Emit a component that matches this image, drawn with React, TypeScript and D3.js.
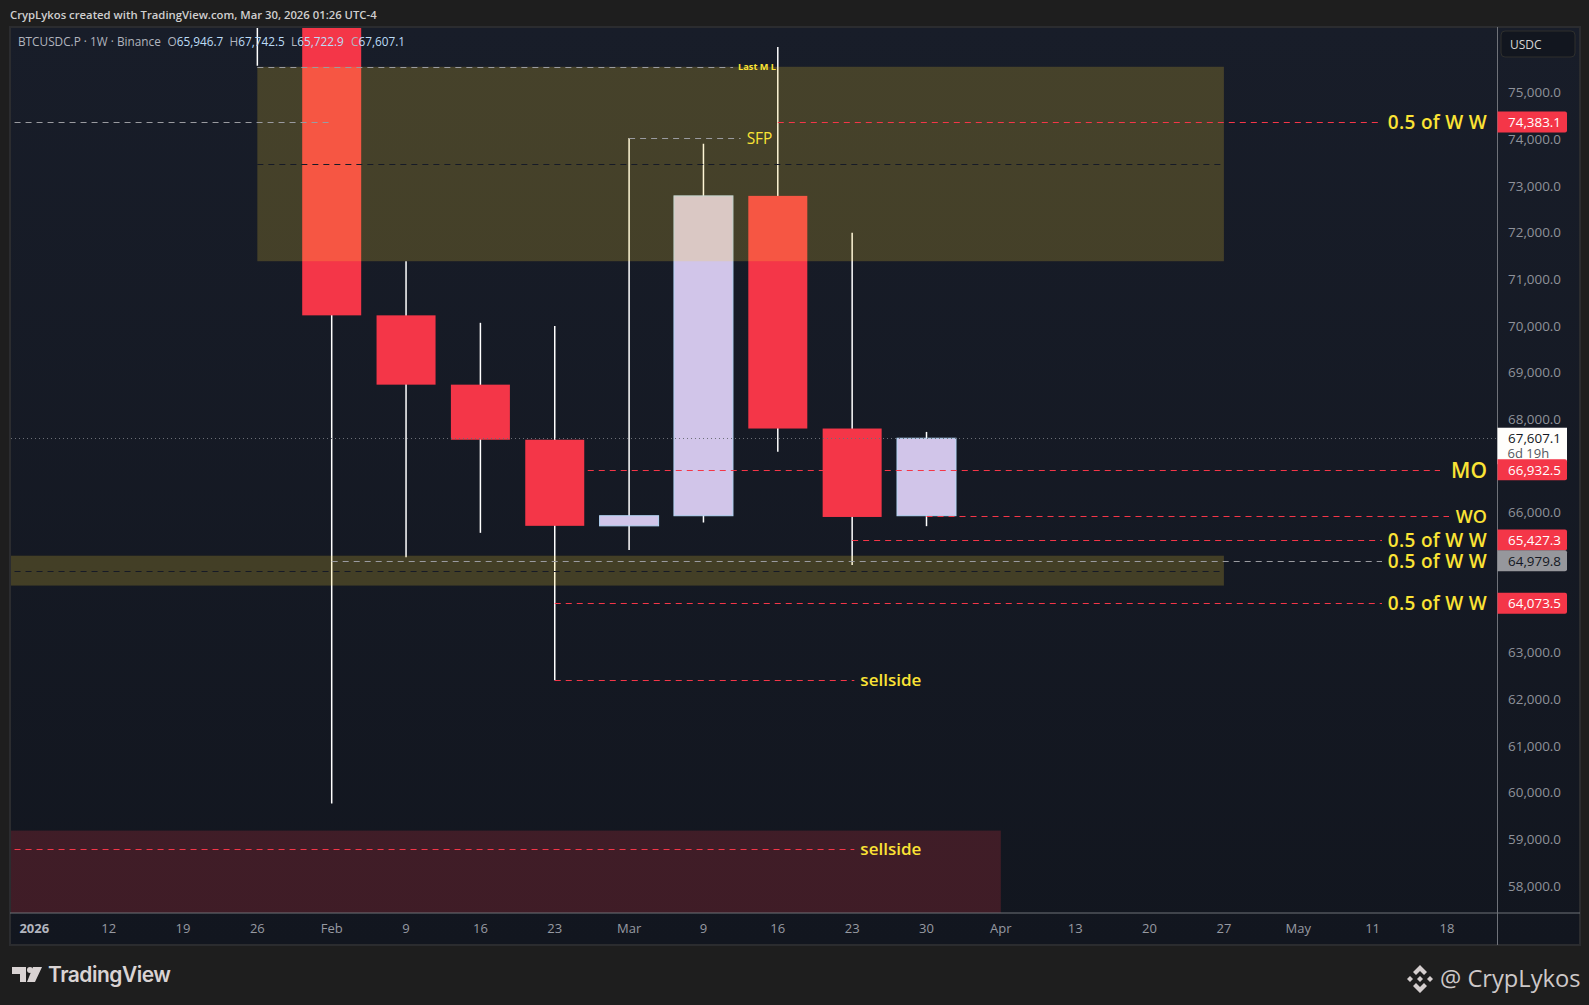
import * as d3 from 'd3';

/* ── OHLC, weekly ── */
const WEEKS = ['2026-01-26', '2026-02-02', '2026-02-09', '2026-02-16', '2026-02-23', '2026-03-02', '2026-03-09', '2026-03-16', '2026-03-23', '2026-03-30'];
const OPENS = [88100, 78700, 70240, 68755, 67575, 65730, 65946.7, 72800, 67815, 65946.7];
const HIGHS = [90000, 79300, 71400, 70080, 70010, 74040, 73915, 75990, 72010, 67742.5];
const LOWS = [75590, 59783, 65057, 65580, 62420, 65210, 65800, 67320, 64890, 65722.9];
const CLOSES = [78700, 70240, 68755, 67575, 65730, 65946.7, 72800, 67815, 65920, 67607.1];

/* ── Axes ── */
const X_TICK_DATES = ['2026-01-05', '2026-01-12', '2026-01-19', '2026-01-26', '2026-02-02', '2026-02-09', '2026-02-16', '2026-02-23', '2026-03-02', '2026-03-09', '2026-03-16', '2026-03-23', '2026-03-30', '2026-04-06', '2026-04-13', '2026-04-20', '2026-04-27', '2026-05-04', '2026-05-11', '2026-05-18'];
const X_TICK_LABELS = ['2026', '12', '19', '26', 'Feb', '9', '16', '23', 'Mar', '9', '16', '23', '30', 'Apr', '13', '20', '27', 'May', '11', '18'];
// 64,000 65,000 and 67,000 sit under the price tags, the scale doesn't print them
const Y_TICKS = [58000, 59000, 60000, 61000, 62000, 63000, 66000, 68000, 69000, 70000, 71000, 72000, 73000, 74000, 75000];

/* ── Drawings ── */
const ZONES = [
  { top: 75566, bottom: 71400, from: '2026-01-26', to: '2026-04-27', tone: 'olive', mid: true },
  { top: 65090, bottom: 64450, from: '2025-12-01', to: '2026-04-27', tone: 'olive', mid: true },
  { top: 59200, bottom: 57300, from: '2025-12-01', to: '2026-04-06', tone: 'maroon', mid: false },
];

// lines that end on their own, text (if any) sits right after the line end
const SHORT_LINES = [
  { price: 74383.1, from: '2025-12-01', to: '2026-02-02', tone: 'grey', text: '', kind: '' },
  { price: 75570, from: '2026-01-26', to: '2026-03-11T19:00', tone: 'grey', text: 'Last M L', kind: 'tiny' },
  { price: 74030, from: '2026-03-02', to: '2026-03-12T12:00', tone: 'grey', text: 'SFP', kind: 'small' },
  { price: 62420, from: '2026-02-23', to: '2026-03-23T05:00', tone: 'red', text: 'sellside', kind: 'side' },
  { price: 58800, from: '2025-12-01', to: '2026-03-23T05:00', tone: 'red', text: 'sellside', kind: 'side' },
];

// lines that run across to a text next to the price scale
const LEVELS = [
  { price: 74383.1, from: '2026-03-16', tone: 'red', text: '0.5 of W W', kind: 'ww' },
  { price: 66932.5, from: '2026-02-23', tone: 'red', text: 'MO', kind: 'mo' },
  { price: 65946.7, from: '2026-03-30', tone: 'red', text: 'WO', kind: 'wo' },
  { price: 65427.3, from: '2026-03-23', tone: 'red', text: '0.5 of W W', kind: 'ww' },
  { price: 64979.8, from: '2026-02-02', tone: 'grey', text: '0.5 of W W', kind: 'ww' },
  { price: 64073.5, from: '2026-02-23', tone: 'red', text: '0.5 of W W', kind: 'ww' },
];

const PRICE_TAGS = [
  { price: 74383.1, tone: 'red' },
  { price: 66932.5, tone: 'red' },
  { price: 65427.3, tone: 'red' },
  { price: 64979.8, tone: 'grey' },
  { price: 64073.5, tone: 'red' },
];

const LAST_PRICE = 67607.1;
const COUNTDOWN = '6d 19h';

/* ── Frame ── */
const W = 1589;
const H = 1005;
const PLOT = { l: 11, t: 28, r: 1497.5, b: 913 };
const FRAME = { l: 10, t: 27, r: 1580, b: 945 };

const FONT = '"Open Sans", "Noto Sans", sans-serif';
const UP = '#d1c5e9';
const UP_EDGE = '#b5d6f6';
const DOWN = '#f43648';
const YELLOW = '#fbe335';
const TONE: Record<string, string> = { red: '#f43648', grey: '#9a9ba0' };
const ZONE_FILL: Record<string, string> = { olive: 'rgba(255,216,50,0.2)', maroon: 'rgba(244,54,72,0.2)' };

const TEXT_STYLE: Record<string, { size: number; weight: number; gap: number; spacing: number }> = {
  ww: { size: 19, weight: 600, gap: 105, spacing: 0.3 },
  mo: { size: 21, weight: 600, gap: 47, spacing: 0 },
  wo: { size: 18, weight: 600, gap: 38, spacing: 0 },
  tiny: { size: 9.2, weight: 700, gap: 5, spacing: 0 },
  small: { size: 15.5, weight: 400, gap: 6, spacing: 0 },
  side: { size: 17, weight: 600, gap: 6, spacing: 0 },
};

const x = d3.scaleUtc()
  .domain([new Date(X_TICK_DATES[0]), new Date('2026-03-30')])
  .range([34.3, 926.5]);

const y = d3.scaleLinear().domain([75000, 58000]).range([93.2, 886.6]);
// one pixel lines sit on a whole pixel row
const rowY = (p: number) => Math.round(y(p)) + 0.5;

const fmtPrice = d3.format(',.1f');
const BODY = 59;
const TEXT_RIGHT = 1487;
const DASH = '6 5';
const SCALE_SIZE = 13.4;

function Tag({ price, tone }: { price: number; tone: string }) {
  const yy = y(price);
  return (
    <g>
      <path d={`M${PLOT.r},${yy - 10.5}H1565a2,2 0 0 1 2,2V${yy + 8.5}a2,2 0 0 1 -2,2H${PLOT.r}Z`} fill={tone === 'red' ? DOWN : '#96979c'} />
      <text x={1561} y={yy} dominantBaseline="central" textAnchor="end" fontSize={SCALE_SIZE} fontWeight={tone === 'red' ? 500 : 400} fill={tone === 'red' ? '#fff' : '#131722'}>{fmtPrice(price)}</text>
    </g>
  );
}

export default function App() {
  return (
    <div style={{ position: 'fixed', inset: 0, background: '#1e1e1e' }}>
      <svg width={W} height={H} style={{ display: 'block' }} fontFamily={FONT}>
        <defs>
          <linearGradient id="paneBg" x1="0" y1="0" x2="0" y2="1">
            <stop offset="0" stopColor="#181d29" />
            <stop offset="1" stopColor="#12161f" />
          </linearGradient>
          <clipPath id="plotClip">
            <rect x={PLOT.l} y={PLOT.t} width={PLOT.r - PLOT.l} height={PLOT.b - PLOT.t} />
          </clipPath>
        </defs>

        <rect width={W} height={H} fill="#1e1e1e" />
        <text x={10} y={19} fontSize={11.3} fontWeight={600} fill="#d0cfcf">CrypLykos created with TradingView.com, Mar 30, 2026 01:26 UTC-4</text>

        {/* panes */}
        <rect x={FRAME.l} y={FRAME.t} width={FRAME.r - FRAME.l} height={FRAME.b - FRAME.t} fill="url(#paneBg)" stroke="#2b2c2f" strokeWidth={2} />

        <g clipPath="url(#plotClip)">
          {/* candles */}
          {WEEKS.map((d, i) => {
            const cx = x(new Date(d));
            const isUp = CLOSES[i] >= OPENS[i];
            const top = y(Math.max(OPENS[i], CLOSES[i]));
            const bot = y(Math.min(OPENS[i], CLOSES[i]));
            return (
              <g key={d}>
                <line x1={cx} x2={cx} y1={y(HIGHS[i])} y2={y(LOWS[i])} stroke="#fff" strokeWidth={1.5} />
                <rect x={cx - BODY / 2} y={top} width={BODY} height={bot - top} fill={isUp ? UP : DOWN} stroke={isUp ? UP_EDGE : 'none'} strokeWidth={1} />
              </g>
            );
          })}

          {/* zones */}
          {ZONES.map(z => {
            const x0 = x(new Date(z.from));
            const x1 = x(new Date(z.to));
            const mid = rowY((z.top + z.bottom) / 2);
            return (
              <g key={z.top}>
                <rect x={x0} y={y(z.top)} width={x1 - x0} height={y(z.bottom) - y(z.top)} fill={ZONE_FILL[z.tone]} />
                {z.mid && <line x1={x0} x2={x1} y1={mid} y2={mid} stroke="#161a26" strokeDasharray={DASH} />}
              </g>
            );
          })}

          {/* last price */}
          <line x1={PLOT.l} x2={PLOT.r} y1={rowY(LAST_PRICE)} y2={rowY(LAST_PRICE)} stroke="#6c6f78" strokeDasharray="1 3" />

          {/* short lines */}
          {SHORT_LINES.map(l => {
            const x1 = x(new Date(l.to));
            const st = TEXT_STYLE[l.kind];
            return (
              <g key={l.price}>
                <line x1={x(new Date(l.from))} x2={x1} y1={rowY(l.price)} y2={rowY(l.price)} stroke={TONE[l.tone]} strokeDasharray={DASH} />
                {l.text && <text x={x1 + st.gap} y={y(l.price) - 0.5} dominantBaseline="central" fontSize={st.size} fontWeight={st.weight} fill={YELLOW}>{l.text}</text>}
              </g>
            );
          })}

          {/* level lines */}
          {LEVELS.map(l => {
            const st = TEXT_STYLE[l.kind];
            return (
              <g key={l.price}>
                <line x1={x(new Date(l.from))} x2={TEXT_RIGHT - st.gap} y1={rowY(l.price)} y2={rowY(l.price)} stroke={TONE[l.tone]} strokeDasharray={DASH} />
                <text x={TEXT_RIGHT} y={y(l.price)} dominantBaseline="central" textAnchor="end" fontSize={st.size} fontWeight={st.weight} letterSpacing={st.spacing} fill={YELLOW}>{l.text}</text>
              </g>
            );
          })}
        </g>

        {/* symbol legend */}
        <text x={18} y={46} fontSize={11.8} fill="#b2b5be">
          BTCUSDC.P · 1W · Binance
          <tspan x={167.5}>O</tspan><tspan fill="#bcdcf7">65,946.7</tspan>
          <tspan x={229.5}>H</tspan><tspan fill="#bcdcf7">67,742.5</tspan>
          <tspan x={291}>L</tspan><tspan fill="#bcdcf7">65,722.9</tspan>
          <tspan x={351}>C</tspan><tspan fill="#bcdcf7">67,607.1</tspan>
        </text>

        {/* scale separators */}
        <line x1={PLOT.r} x2={PLOT.r} y1={FRAME.t} y2={FRAME.b} stroke="#6f7279" />
        <line x1={FRAME.l} x2={FRAME.r} y1={PLOT.b} y2={PLOT.b} stroke="#6f7279" />

        {/* time axis */}
        {X_TICK_DATES.map((d, i) => (
          <text key={d} x={x(new Date(d))} y={928} dominantBaseline="central" textAnchor="middle" fontSize={13} fontWeight={i === 0 ? 700 : 400} fill={i === 0 ? '#b2b5be' : '#979aa2'}>{X_TICK_LABELS[i]}</text>
        ))}

        {/* price axis */}
        {Y_TICKS.map(t => (
          <text key={t} x={1561} y={y(t) - 1} dominantBaseline="central" textAnchor="end" fontSize={SCALE_SIZE} fill="#8f929a">{fmtPrice(t)}</text>
        ))}

        <rect x={1501} y={31} width={74} height={26} rx={4} fill="#12161f" stroke="#2e2f2d" />
        <text x={1510} y={44.5} dominantBaseline="central" fontSize={12} fill="#d6d6d6">USDC</text>

        {/* last price tag */}
        <rect x={PLOT.r} y={y(LAST_PRICE) - 10.5} width={69.5} height={36.5} fill="#fffefc" />
        <text x={1561} y={y(LAST_PRICE)} dominantBaseline="central" textAnchor="end" fontSize={SCALE_SIZE} fill="#131722">{fmtPrice(LAST_PRICE)}</text>
        <text x={1507.5} y={y(LAST_PRICE) + 14.5} dominantBaseline="central" fontSize={13} fill="#55585f">{COUNTDOWN}</text>
        {PRICE_TAGS.map(t => <Tag key={t.price} price={t.price} tone={t.tone} />)}

        {/* TradingView mark */}
        <g fill="#d9d3d3">
          <path d="M12,967H26V982H20V974H12Z" />
          <circle cx={30} cy={970} r={3} />
          <path d="M33,967H42L35,982H27Z" />
          <text x={48} y={981.5} fontFamily="Inter, sans-serif" fontSize={21} fontWeight={600} letterSpacing={-0.5}>TradingView</text>
        </g>

        {/* exchange mark and handle */}
        <g fill="#d5cfcf" transform="translate(1420,979)">
          <path d="M0,-14L7,-7L4,-4L0,-8L-4,-4L-7,-7Z" />
          <path d="M0,14L7,7L4,4L0,8L-4,4L-7,7Z" />
          <path d="M-13,0L-10,-3L-7,0L-10,3Z" />
          <path d="M13,0L10,-3L7,0L10,3Z" />
          <path d="M0,-3L3,0L0,3L-3,0Z" />
        </g>
        <text x={1440} y={987} fontSize={23.7} fill="#cdc8c8">@ CrypLykos</text>
      </svg>
    </div>
  );
}
